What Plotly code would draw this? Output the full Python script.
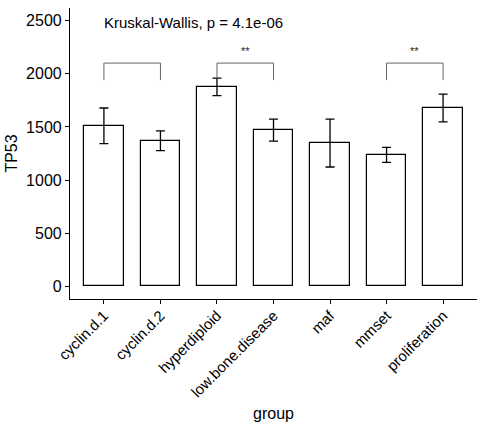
import plotly.graph_objects as go

# group means and standard errors of TP53
groups = ["cyclin.d.1", "cyclin.d.2", "hyperdiploid", "low.bone.disease",
          "maf", "mmset", "proliferation"]
tp53_mean = [1510, 1370, 1876, 1470, 1348, 1237, 1678]
tp53_se = [168, 93, 82, 104, 225, 70, 130]

# pairwise comparisons drawn as brackets
comp_left = ["cyclin.d.1", "hyperdiploid", "mmset"]
comp_right = ["cyclin.d.2", "low.bone.disease", "proliferation"]
comp_label = ["", "**", "**"]
bracket_y = 2100
bracket_tip = 1940
label_y = 2210

kw_text = "Kruskal-Wallis, p = 4.1e-06"
kw_y = 2485

font = "Liberation Sans, Arial, sans-serif"

fig = go.Figure()

fig.add_trace(go.Bar(
    x=groups, y=tp53_mean, width=0.7,
    marker=dict(color="white", line=dict(color="black", width=1.2)),
    error_y=dict(type="data", array=tp53_se, color="black", thickness=1.3, width=4.5),
    showlegend=False, hoverinfo="skip"))

# brackets for the pairwise tests
for a, b, lab in zip(comp_left, comp_right, comp_label):
    fig.add_trace(go.Scatter(
        x=[a, a, b, b], y=[bracket_tip, bracket_y, bracket_y, bracket_tip],
        mode="lines", line=dict(color="#555555", width=0.9),
        showlegend=False, hoverinfo="skip"))
    if lab:
        ia, ib = groups.index(a), groups.index(b)
        fig.add_annotation(x=(ia + ib) / 2, y=label_y, text=lab, showarrow=False,
                           font=dict(family=font, size=11, color="#222222"))

fig.add_annotation(x=groups[0], y=kw_y, text=kw_text, showarrow=False,
                   xanchor="left", yanchor="middle", xshift=-2,
                   font=dict(family=font, size=15, color="black"))

fig.update_layout(
    width=485, height=433,
    margin=dict(l=70, r=8, t=8, b=134),
    plot_bgcolor="white", paper_bgcolor="white",
    font=dict(family=font, size=15, color="black"),
    bargap=0,
)

fig.update_xaxes(
    type="category", range=[-0.6, 6.6], automargin=False,
    showline=True, linecolor="black", linewidth=1.2,
    ticks="outside", ticklen=4, tickcolor="black", tickwidth=1.2,
    tickangle=-45, tickfont=dict(family=font, size=15, color="black"),
    ticklabelstandoff=-3,
    title=dict(text="group", font=dict(family=font, size=16), standoff=8),
    showgrid=False, zeroline=False)

fig.update_yaxes(
    range=[-118, 2618], tickvals=[0, 500, 1000, 1500, 2000, 2500], automargin=False,
    showline=True, linecolor="black", linewidth=1.2,
    ticks="outside", ticklen=4, tickcolor="black", tickwidth=1.2,
    tickfont=dict(family=font, size=16, color="black"),
    title=dict(text="TP53", font=dict(family=font, size=16), standoff=4),
    showgrid=False, zeroline=False)

# the page body has a default 8px margin; drop it so the figure sits at the corner
fig.write_html("out.html", config={"displayModeBar": False},
               post_script="document.body.style.margin='0';")
